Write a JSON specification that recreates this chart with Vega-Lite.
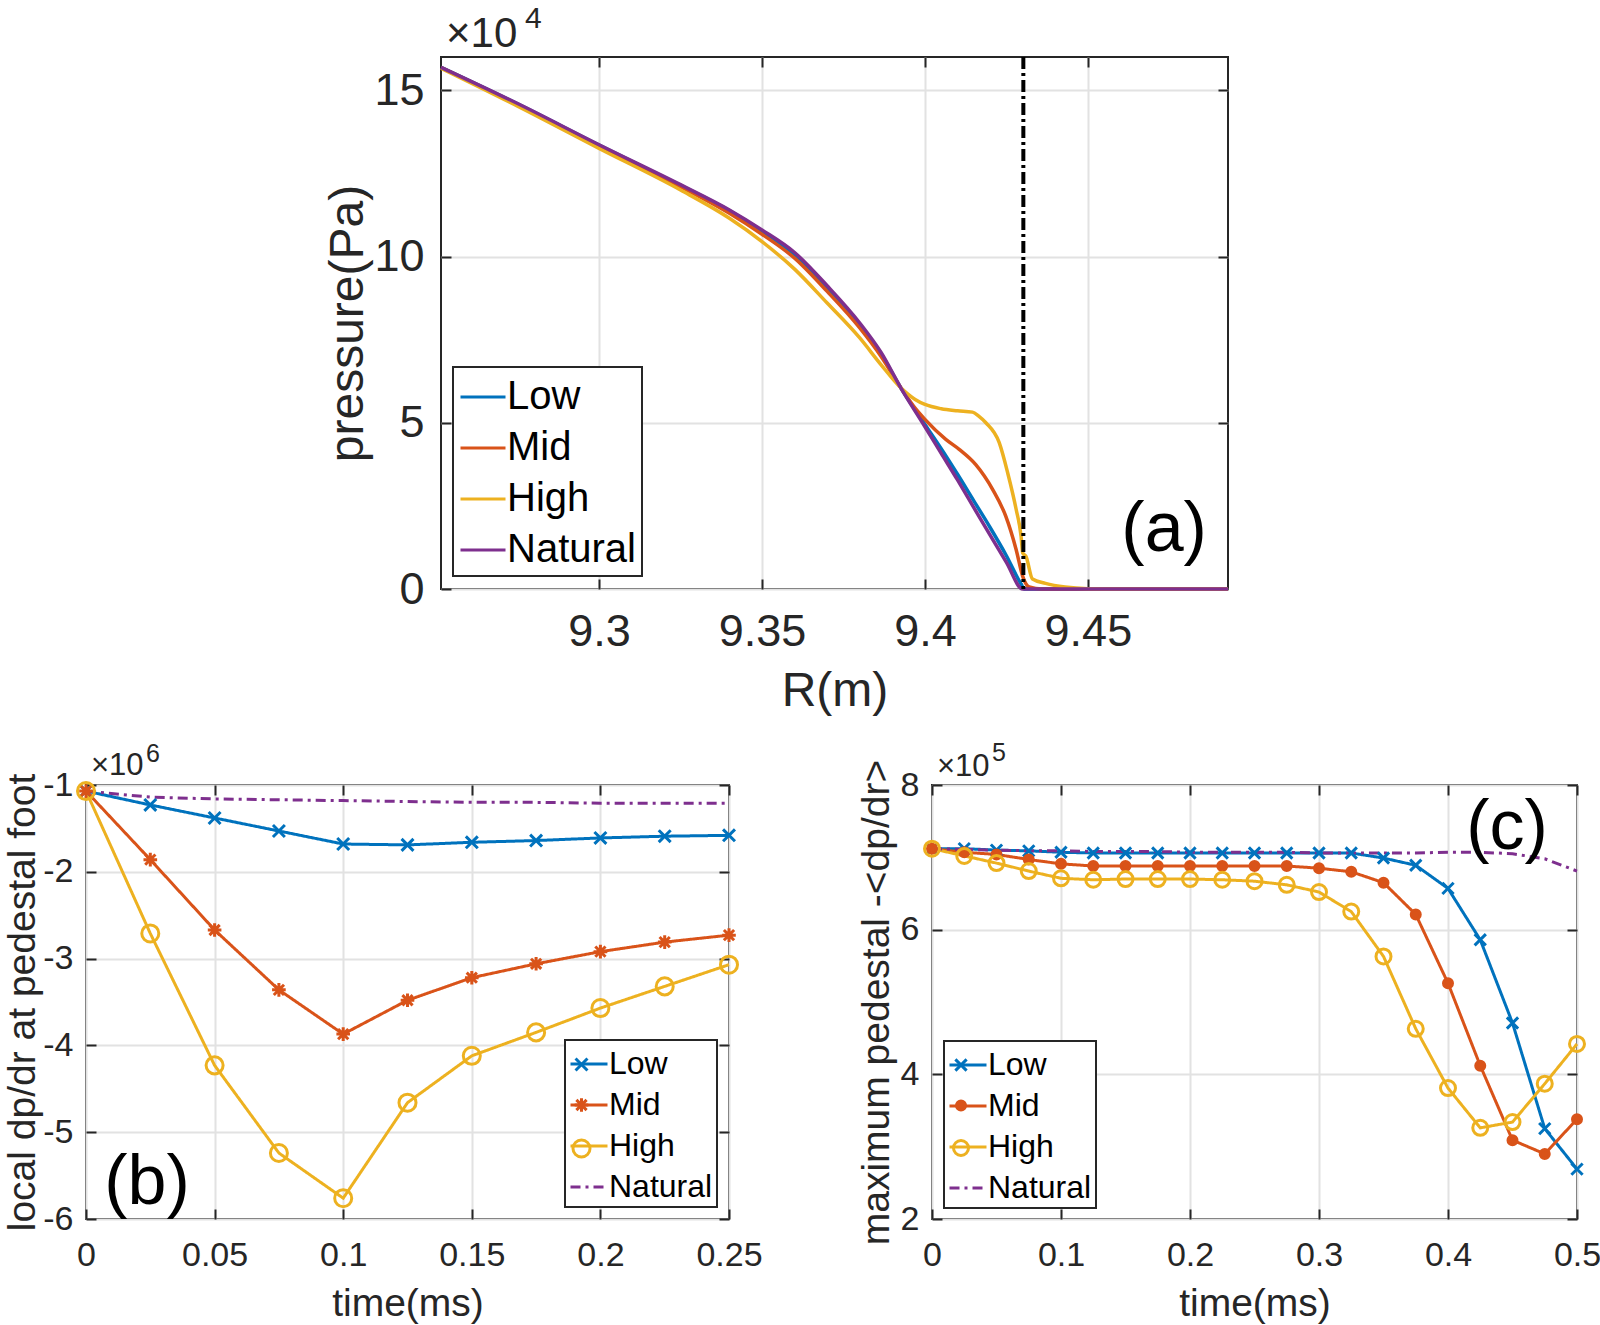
{
"$schema": "https://vega.github.io/schema/vega-lite/v6.json",
"background": "white",
"padding": {"left": 2, "top": 3, "right": 0, "bottom": 0},
"config": {
  "font": "Liberation Sans, Arial, Helvetica, sans-serif",
  "view": {"stroke": "#262626", "strokeWidth": 2},
  "axis": {"domain": false, "gridColor": "#e2e2e2", "gridWidth": 2, "tickColor": "#262626", "tickWidth": 2, "tickSize": -10,
           "labelColor": "#262626", "titleColor": "#262626", "titleFontWeight": "normal", "labelFlush": false, "labelOverlap": false, "labelBound": false,
           "labelFont": "Liberation Sans, Arial, sans-serif", "titleFont": "Liberation Sans, Arial, sans-serif"},
  "legend": {"labelFont": "Liberation Sans, Arial, sans-serif", "labelColor": "black", "strokeWidth": 2, "labelLimit": 400}
},
"datasets": {
  "pa": [
    {"series":"Low","R":9.2515,"p":15.69},{"series":"Low","R":9.275,"p":14.59},{"series":"Low","R":9.3,"p":13.35},{"series":"Low","R":9.325,"p":12.14},{"series":"Low","R":9.34,"p":11.38},{"series":"Low","R":9.35,"p":10.76},{"series":"Low","R":9.36,"p":10.05},{"series":"Low","R":9.37,"p":9.05},{"series":"Low","R":9.38,"p":7.95},{"series":"Low","R":9.3865,"p":7.08},{"series":"Low","R":9.3926,"p":6.05},{"series":"Low","R":9.4,"p":4.95},{"series":"Low","R":9.405,"p":4.22},{"series":"Low","R":9.41,"p":3.45},{"series":"Low","R":9.415,"p":2.65},{"series":"Low","R":9.42,"p":1.85},{"series":"Low","R":9.425,"p":1.0},{"series":"Low","R":9.4295,"p":0.15},{"series":"Low","R":9.4305,"p":0},{"series":"Low","R":9.45,"p":0},{"series":"Low","R":9.493,"p":0},
    {"series":"Mid","R":9.2515,"p":15.68},{"series":"Mid","R":9.275,"p":14.57},{"series":"Mid","R":9.3,"p":13.32},{"series":"Mid","R":9.325,"p":12.1},{"series":"Mid","R":9.34,"p":11.3},{"series":"Mid","R":9.35,"p":10.67},{"series":"Mid","R":9.36,"p":9.95},{"series":"Mid","R":9.37,"p":8.95},{"series":"Mid","R":9.38,"p":7.85},{"series":"Mid","R":9.3865,"p":7.0},{"series":"Mid","R":9.3926,"p":6.05},{"series":"Mid","R":9.3965,"p":5.5},{"series":"Mid","R":9.4,"p":5.1},{"series":"Mid","R":9.4064,"p":4.5},{"series":"Mid","R":9.4105,"p":4.2},{"series":"Mid","R":9.4156,"p":3.74},{"series":"Mid","R":9.4208,"p":2.99},{"series":"Mid","R":9.4248,"p":2.19},{"series":"Mid","R":9.428,"p":1.18},{"series":"Mid","R":9.43,"p":0.38},{"series":"Mid","R":9.432,"p":0.06},{"series":"Mid","R":9.436,"p":0},{"series":"Mid","R":9.493,"p":0},
    {"series":"High","R":9.2515,"p":15.66},{"series":"High","R":9.275,"p":14.52},{"series":"High","R":9.3,"p":13.25},{"series":"High","R":9.325,"p":12.0},{"series":"High","R":9.34,"p":11.15},{"series":"High","R":9.35,"p":10.45},{"series":"High","R":9.36,"p":9.62},{"series":"High","R":9.37,"p":8.6},{"series":"High","R":9.38,"p":7.55},{"series":"High","R":9.3865,"p":6.75},{"series":"High","R":9.3926,"p":6.05},{"series":"High","R":9.397,"p":5.7},{"series":"High","R":9.4,"p":5.55},{"series":"High","R":9.405,"p":5.42},{"series":"High","R":9.41,"p":5.36},{"series":"High","R":9.4146,"p":5.32},{"series":"High","R":9.4165,"p":5.2},{"series":"High","R":9.4187,"p":5.0},{"series":"High","R":9.4228,"p":4.4},{"series":"High","R":9.4254,"p":3.49},{"series":"High","R":9.428,"p":2.39},{"series":"High","R":9.4295,"p":1.59},{"series":"High","R":9.43,"p":1.08},{"series":"High","R":9.431,"p":0.98},{"series":"High","R":9.433,"p":0.3},{"series":"High","R":9.437,"p":0.17},{"series":"High","R":9.443,"p":0.06},{"series":"High","R":9.45,"p":0.01},{"series":"High","R":9.46,"p":0},{"series":"High","R":9.493,"p":0},
    {"series":"Natural","R":9.2515,"p":15.69},{"series":"Natural","R":9.275,"p":14.6},{"series":"Natural","R":9.3,"p":13.36},{"series":"Natural","R":9.325,"p":12.16},{"series":"Natural","R":9.34,"p":11.4},{"series":"Natural","R":9.35,"p":10.8},{"series":"Natural","R":9.36,"p":10.12},{"series":"Natural","R":9.37,"p":9.12},{"series":"Natural","R":9.38,"p":8.0},{"series":"Natural","R":9.3865,"p":7.12},{"series":"Natural","R":9.3926,"p":6.05},{"series":"Natural","R":9.4,"p":4.88},{"series":"Natural","R":9.405,"p":4.08},{"series":"Natural","R":9.41,"p":3.28},{"series":"Natural","R":9.415,"p":2.45},{"series":"Natural","R":9.42,"p":1.62},{"series":"Natural","R":9.425,"p":0.8},{"series":"Natural","R":9.43,"p":0},{"series":"Natural","R":9.45,"p":0},{"series":"Natural","R":9.493,"p":0}
  ],
  "pb": [
    {"series":"Low","t":0,"v":-1.07},{"series":"Low","t":0.025,"v":-1.23},{"series":"Low","t":0.05,"v":-1.38},{"series":"Low","t":0.075,"v":-1.53},{"series":"Low","t":0.1,"v":-1.68},{"series":"Low","t":0.125,"v":-1.69},{"series":"Low","t":0.15,"v":-1.66},{"series":"Low","t":0.175,"v":-1.64},{"series":"Low","t":0.2,"v":-1.61},{"series":"Low","t":0.225,"v":-1.59},{"series":"Low","t":0.25,"v":-1.58},
    {"series":"Mid","t":0,"v":-1.07},{"series":"Mid","t":0.025,"v":-1.86},{"series":"Mid","t":0.05,"v":-2.67},{"series":"Mid","t":0.075,"v":-3.36},{"series":"Mid","t":0.1,"v":-3.87},{"series":"Mid","t":0.125,"v":-3.48},{"series":"Mid","t":0.15,"v":-3.22},{"series":"Mid","t":0.175,"v":-3.06},{"series":"Mid","t":0.2,"v":-2.92},{"series":"Mid","t":0.225,"v":-2.81},{"series":"Mid","t":0.25,"v":-2.73},
    {"series":"High","t":0,"v":-1.07},{"series":"High","t":0.025,"v":-2.71},{"series":"High","t":0.05,"v":-4.23},{"series":"High","t":0.075,"v":-5.24},{"series":"High","t":0.1,"v":-5.76},{"series":"High","t":0.125,"v":-4.66},{"series":"High","t":0.15,"v":-4.12},{"series":"High","t":0.175,"v":-3.85},{"series":"High","t":0.2,"v":-3.57},{"series":"High","t":0.225,"v":-3.32},{"series":"High","t":0.25,"v":-3.07},
    {"series":"Natural","t":0,"v":-1.07},{"series":"Natural","t":0.025,"v":-1.14},{"series":"Natural","t":0.05,"v":-1.16},{"series":"Natural","t":0.075,"v":-1.17},{"series":"Natural","t":0.1,"v":-1.18},{"series":"Natural","t":0.125,"v":-1.19},{"series":"Natural","t":0.15,"v":-1.2},{"series":"Natural","t":0.175,"v":-1.2},{"series":"Natural","t":0.2,"v":-1.21},{"series":"Natural","t":0.225,"v":-1.21},{"series":"Natural","t":0.25,"v":-1.21}
  ],
  "pc": [
    {"series":"Low","t":0,"v":7.12},{"series":"Low","t":0.025,"v":7.12},{"series":"Low","t":0.05,"v":7.1},{"series":"Low","t":0.075,"v":7.09},{"series":"Low","t":0.1,"v":7.07},{"series":"Low","t":0.125,"v":7.06},{"series":"Low","t":0.15,"v":7.06},{"series":"Low","t":0.175,"v":7.06},{"series":"Low","t":0.2,"v":7.06},{"series":"Low","t":0.225,"v":7.06},{"series":"Low","t":0.25,"v":7.06},{"series":"Low","t":0.275,"v":7.06},{"series":"Low","t":0.3,"v":7.06},{"series":"Low","t":0.325,"v":7.06},{"series":"Low","t":0.35,"v":6.99},{"series":"Low","t":0.375,"v":6.89},{"series":"Low","t":0.4,"v":6.57},{"series":"Low","t":0.425,"v":5.86},{"series":"Low","t":0.45,"v":4.71},{"series":"Low","t":0.475,"v":3.25},{"series":"Low","t":0.5,"v":2.69},
    {"series":"Mid","t":0,"v":7.12},{"series":"Mid","t":0.025,"v":7.07},{"series":"Mid","t":0.05,"v":7.04},{"series":"Mid","t":0.075,"v":6.97},{"series":"Mid","t":0.1,"v":6.91},{"series":"Mid","t":0.125,"v":6.88},{"series":"Mid","t":0.15,"v":6.88},{"series":"Mid","t":0.175,"v":6.88},{"series":"Mid","t":0.2,"v":6.88},{"series":"Mid","t":0.225,"v":6.88},{"series":"Mid","t":0.25,"v":6.88},{"series":"Mid","t":0.275,"v":6.88},{"series":"Mid","t":0.3,"v":6.85},{"series":"Mid","t":0.325,"v":6.8},{"series":"Mid","t":0.35,"v":6.65},{"series":"Mid","t":0.375,"v":6.21},{"series":"Mid","t":0.4,"v":5.26},{"series":"Mid","t":0.425,"v":4.12},{"series":"Mid","t":0.45,"v":3.09},{"series":"Mid","t":0.475,"v":2.9},{"series":"Mid","t":0.5,"v":3.38},
    {"series":"High","t":0,"v":7.12},{"series":"High","t":0.025,"v":7.02},{"series":"High","t":0.05,"v":6.92},{"series":"High","t":0.075,"v":6.81},{"series":"High","t":0.1,"v":6.71},{"series":"High","t":0.125,"v":6.69},{"series":"High","t":0.15,"v":6.7},{"series":"High","t":0.175,"v":6.7},{"series":"High","t":0.2,"v":6.7},{"series":"High","t":0.225,"v":6.69},{"series":"High","t":0.25,"v":6.67},{"series":"High","t":0.275,"v":6.62},{"series":"High","t":0.3,"v":6.52},{"series":"High","t":0.325,"v":6.25},{"series":"High","t":0.35,"v":5.63},{"series":"High","t":0.375,"v":4.63},{"series":"High","t":0.4,"v":3.81},{"series":"High","t":0.425,"v":3.26},{"series":"High","t":0.45,"v":3.34},{"series":"High","t":0.475,"v":3.87},{"series":"High","t":0.5,"v":4.42},
    {"series":"Natural","t":0,"v":7.12},{"series":"Natural","t":0.025,"v":7.11},{"series":"Natural","t":0.05,"v":7.1},{"series":"Natural","t":0.075,"v":7.09},{"series":"Natural","t":0.1,"v":7.09},{"series":"Natural","t":0.125,"v":7.08},{"series":"Natural","t":0.15,"v":7.08},{"series":"Natural","t":0.175,"v":7.08},{"series":"Natural","t":0.2,"v":7.07},{"series":"Natural","t":0.225,"v":7.07},{"series":"Natural","t":0.25,"v":7.07},{"series":"Natural","t":0.275,"v":7.07},{"series":"Natural","t":0.3,"v":7.06},{"series":"Natural","t":0.325,"v":7.06},{"series":"Natural","t":0.35,"v":7.06},{"series":"Natural","t":0.375,"v":7.06},{"series":"Natural","t":0.4,"v":7.07},{"series":"Natural","t":0.425,"v":7.07},{"series":"Natural","t":0.45,"v":7.05},{"series":"Natural","t":0.475,"v":6.98},{"series":"Natural","t":0.5,"v":6.81}
  ]
},
"bounds": "flush",
"spacing": 728,
"resolve": {
  "scale": {"color": "independent", "strokeDash": "independent", "stroke": "independent", "shape": "independent", "fill": "independent"},
  "legend": {"color": "independent", "strokeDash": "independent", "stroke": "independent", "shape": "independent", "fill": "independent"}
},
"vconcat": [
  {
    "bounds": "flush",
    "spacing": 203,
    "resolve": {"scale": {"color": "independent"}, "legend": {"color": "independent"}},
    "hconcat": [
      {
        "width": 152, "height": 532,
        "view": {"stroke": null},
        "data": {"values": [{"R": 9.3, "p": 5}]},
        "mark": {"type": "point", "opacity": 0},
        "encoding": {
          "x": {"field": "R", "type": "quantitative", "axis": null},
          "y": {"field": "p", "type": "quantitative", "axis": null}
        }
      },
      {
        "width": 787, "height": 532,
        "resolve": {"axis": {"x": "independent", "y": "independent"}},
        "layer": [
          {
            "data": {"name": "pa"},
            "mark": {"type": "line", "strokeWidth": 3.5, "interpolate": "monotone"},
            "encoding": {
              "x": {"field": "R", "type": "quantitative", "scale": {"domain": [9.2515, 9.493], "nice": false, "zero": false},
                    "axis": {"orient": "bottom", "values": [9.3, 9.35, 9.4, 9.45], "labelExpr": "'' + datum.value", "title": "R(m)", "labelFontSize": 45, "titleFontSize": 48, "labelPadding": 30, "titlePadding": 13, "grid": true}},
              "y": {"field": "p", "type": "quantitative", "scale": {"domain": [0, 16], "nice": false, "zero": false},
                    "axis": {"orient": "left", "values": [0, 5, 10, 15], "labelExpr": "'' + datum.value", "title": "pressure(Pa)", "labelFontSize": 45, "titleFontSize": 48, "labelPadding": 27, "titlePadding": 1, "grid": true}},
              "color": {"field": "series", "type": "nominal", "sort": null,
                        "scale": {"domain": ["Low", "Mid", "High", "Natural"], "range": ["#0072BD", "#D95319", "#EDB120", "#7E2F8E"]},
                        "legend": {"orient": "none", "legendX": 12, "legendY": 310, "title": null, "symbolType": "stroke", "symbolSize": 2025, "symbolStrokeWidth": 3, "labelFontSize": 40, "padding": 6, "rowPadding": 7, "labelOffset": 0, "strokeColor": "#262626", "fillColor": "white"}}
            }
          },
          {
            "data": {"values": [{"R": 9.4302}]},
            "mark": {"type": "rule", "color": "black", "strokeWidth": 4, "strokeDash": [12, 4, 3, 4]},
            "encoding": {"x": {"field": "R", "type": "quantitative", "axis": null}}
          },
          {
            "data": {"values": [{"label": "(a)"}]},
            "mark": {"type": "text", "fontSize": 70, "align": "center", "baseline": "middle", "color": "black"},
            "encoding": {
              "text": {"field": "label"},
              "x": {"datum": 9.4734, "type": "quantitative", "axis": {"orient": "top", "values": [9.3, 9.35, 9.4, 9.45], "labels": false, "grid": false, "title": null}},
              "y": {"datum": 1.77, "type": "quantitative", "axis": {"orient": "right", "values": [0, 5, 10, 15], "labels": false, "grid": false, "title": null}}
            }
          },
          {
            "data": {"values": [{"label": "×10"}]},
            "mark": {"type": "text", "fontSize": 42, "align": "left", "baseline": "alphabetic", "dx": 5, "dy": -10, "color": "#262626"},
            "encoding": {"text": {"field": "label"}, "x": {"datum": 9.2515, "type": "quantitative", "axis": null}, "y": {"datum": 16, "type": "quantitative", "axis": null}}
          },
          {
            "data": {"values": [{"label": "4"}]},
            "mark": {"type": "text", "fontSize": 30, "align": "left", "baseline": "alphabetic", "dx": 84, "dy": -29, "color": "#262626"},
            "encoding": {"text": {"field": "label"}, "x": {"datum": 9.2515, "type": "quantitative", "axis": null}, "y": {"datum": 16, "type": "quantitative", "axis": null}}
          }
        ]
      }
    ]
  },
  {
    "bounds": "flush",
    "spacing": 203,
    "resolve": {
      "scale": {"color": "independent", "strokeDash": "independent", "stroke": "independent", "shape": "independent", "fill": "independent"},
      "legend": {"color": "independent", "strokeDash": "independent", "stroke": "independent", "shape": "independent", "fill": "independent"}
    },
    "hconcat": [
      {
        "width": 643, "height": 434,
        "resolve": {"axis": {"x": "independent", "y": "independent"}},
        "layer": [
          {
            "data": {"name": "pb"},
            "mark": {"type": "line", "strokeWidth": 3},
            "encoding": {
              "x": {"field": "t", "type": "quantitative", "scale": {"domain": [0, 0.25], "nice": false, "zero": false},
                    "axis": {"orient": "bottom", "values": [0, 0.05, 0.1, 0.15, 0.2, 0.25], "labelExpr": "'' + datum.value", "title": "time(ms)", "labelFontSize": 34, "titleFontSize": 39, "labelPadding": 29, "titlePadding": 12, "grid": true}},
              "y": {"field": "v", "type": "quantitative", "scale": {"domain": [-6, -1], "nice": false, "zero": false},
                    "axis": {"orient": "left", "values": [-6, -5, -4, -3, -2, -1], "labelExpr": "'' + datum.value", "title": "local dp/dr at pedestal foot", "labelFontSize": 34, "titleFontSize": 39, "labelPadding": 23, "titlePadding": 0, "grid": true}},
              "color": {"field": "series", "type": "nominal", "sort": null,
                        "scale": {"domain": ["Low", "Mid", "High", "Natural"], "range": ["#0072BD", "#D95319", "#EDB120", "#7E2F8E"]},
                        "legend": {"orient": "none", "legendX": 479, "legendY": 255, "title": null, "symbolType": "stroke", "symbolSize": 1369, "symbolStrokeWidth": 3, "labelFontSize": 32, "padding": 4, "rowPadding": 5, "labelOffset": 0, "strokeColor": "#262626", "fillColor": "white"}},
              "strokeDash": {"field": "series", "type": "nominal", "sort": null,
                        "scale": {"domain": ["Low", "Mid", "High", "Natural"], "range": [[1, 0], [1, 0], [1, 0], [10, 5, 3, 5]]},
                        "legend": {"orient": "none", "legendX": 479, "legendY": 255, "title": null, "symbolType": "stroke", "symbolSize": 1369, "symbolStrokeWidth": 3, "labelFontSize": 32, "padding": 4, "rowPadding": 5, "labelOffset": 0, "strokeColor": "#262626", "fillColor": "white"}}
            }
          },
          {
            "data": {"name": "pb"},
            "transform": [{"filter": "datum.series !== 'Natural'"}],
            "mark": {"type": "point", "filled": false, "size": 290, "strokeWidth": 3, "opacity": 1},
            "encoding": {
              "x": {"field": "t", "type": "quantitative", "axis": null},
              "y": {"field": "v", "type": "quantitative", "axis": null},
              "stroke": {"field": "series", "type": "nominal", "sort": null,
                         "scale": {"domain": ["Low", "Mid", "High"], "range": ["#0072BD", "#D95319", "#EDB120"]},
                         "legend": {"orient": "none", "legendX": 481, "legendY": 265, "title": null, "symbolSize": 290, "symbolStrokeWidth": 3, "labelFontSize": 1, "labelExpr": "''", "padding": 4, "rowPadding": 14.5, "labelOffset": 0}},
              "shape": {"field": "series", "type": "nominal", "sort": null,
                         "scale": {"domain": ["Low", "Mid", "High"], "range": ["M-0.7,-0.7L0.7,0.7M-0.7,0.7L0.7,-0.7", "M-0.6,-0.6L0.6,0.6M-0.6,0.6L0.6,-0.6M0,-0.8L0,0.8M-0.8,0L0.8,0", "circle"]},
                         "legend": {"orient": "none", "legendX": 481, "legendY": 265, "title": null, "symbolSize": 290, "symbolStrokeWidth": 3, "labelFontSize": 1, "labelExpr": "''", "padding": 4, "rowPadding": 14.5, "labelOffset": 0}}
            }
          },
          {
            "data": {"values": [{"label": "(b)"}]},
            "mark": {"type": "text", "fontSize": 70, "align": "center", "baseline": "middle", "color": "black"},
            "encoding": {
              "text": {"field": "label"},
              "x": {"datum": 0.0237, "type": "quantitative", "axis": {"orient": "top", "values": [0, 0.05, 0.1, 0.15, 0.2, 0.25], "labels": false, "grid": false, "title": null}},
              "y": {"datum": -5.58, "type": "quantitative", "axis": {"orient": "right", "values": [-6, -5, -4, -3, -2, -1], "labels": false, "grid": false, "title": null}}
            }
          },
          {
            "data": {"values": [{"label": "×10"}]},
            "mark": {"type": "text", "fontSize": 31, "align": "left", "baseline": "alphabetic", "dx": 5, "dy": -10, "color": "#262626"},
            "encoding": {"text": {"field": "label"}, "x": {"datum": 0, "type": "quantitative", "axis": null}, "y": {"datum": -1, "type": "quantitative", "axis": null}}
          },
          {
            "data": {"values": [{"label": "6"}]},
            "mark": {"type": "text", "fontSize": 25, "align": "left", "baseline": "alphabetic", "dx": 60, "dy": -23, "color": "#262626"},
            "encoding": {"text": {"field": "label"}, "x": {"datum": 0, "type": "quantitative", "axis": null}, "y": {"datum": -1, "type": "quantitative", "axis": null}}
          }
        ]
      },
      {
        "width": 645, "height": 434,
        "resolve": {"axis": {"x": "independent", "y": "independent"}},
        "layer": [
          {
            "data": {"name": "pc"},
            "mark": {"type": "line", "strokeWidth": 3},
            "encoding": {
              "x": {"field": "t", "type": "quantitative", "scale": {"domain": [0, 0.5], "nice": false, "zero": false},
                    "axis": {"orient": "bottom", "values": [0, 0.1, 0.2, 0.3, 0.4, 0.5], "labelExpr": "'' + datum.value", "title": "time(ms)", "labelFontSize": 34, "titleFontSize": 39, "labelPadding": 29, "titlePadding": 12, "grid": true}},
              "y": {"field": "v", "type": "quantitative", "scale": {"domain": [2, 8], "nice": false, "zero": false},
                    "axis": {"orient": "left", "values": [2, 4, 6, 8], "labelExpr": "'' + datum.value", "title": "maximum pedestal -<dp/dr>", "labelFontSize": 34, "titleFontSize": 39, "labelPadding": 23, "titlePadding": 4, "grid": true}},
              "color": {"field": "series", "type": "nominal", "sort": null,
                        "scale": {"domain": ["Low", "Mid", "High", "Natural"], "range": ["#0072BD", "#D95319", "#EDB120", "#7E2F8E"]},
                        "legend": {"orient": "none", "legendX": 12, "legendY": 256, "title": null, "symbolType": "stroke", "symbolSize": 1369, "symbolStrokeWidth": 3, "labelFontSize": 32, "padding": 4, "rowPadding": 5, "labelOffset": 0, "strokeColor": "#262626", "fillColor": "white"}},
              "strokeDash": {"field": "series", "type": "nominal", "sort": null,
                        "scale": {"domain": ["Low", "Mid", "High", "Natural"], "range": [[1, 0], [1, 0], [1, 0], [10, 5, 3, 5]]},
                        "legend": {"orient": "none", "legendX": 12, "legendY": 256, "title": null, "symbolType": "stroke", "symbolSize": 1369, "symbolStrokeWidth": 3, "labelFontSize": 32, "padding": 4, "rowPadding": 5, "labelOffset": 0, "strokeColor": "#262626", "fillColor": "white"}}
            }
          },
          {
            "data": {"name": "pc"},
            "transform": [{"filter": "datum.series !== 'Natural'"}],
            "mark": {"type": "point", "filled": false, "size": 225, "strokeWidth": 3, "opacity": 1},
            "encoding": {
              "x": {"field": "t", "type": "quantitative", "axis": null},
              "y": {"field": "v", "type": "quantitative", "axis": null},
              "stroke": {"field": "series", "type": "nominal", "sort": null,
                         "scale": {"domain": ["Low", "Mid", "High"], "range": ["#0072BD", "#D95319", "#EDB120"]},
                         "legend": {"orient": "none", "legendX": 16, "legendY": 267, "title": null, "symbolSize": 225, "symbolStrokeWidth": 3, "labelFontSize": 1, "labelExpr": "''", "padding": 4, "rowPadding": 17.5, "labelOffset": 0}},
              "fill": {"field": "series", "type": "nominal", "sort": null,
                         "scale": {"domain": ["Low", "Mid", "High"], "range": ["transparent", "#D95319", "transparent"]},
                         "legend": {"orient": "none", "legendX": 16, "legendY": 267, "title": null, "symbolSize": 225, "symbolStrokeWidth": 3, "labelFontSize": 1, "labelExpr": "''", "padding": 4, "rowPadding": 17.5, "labelOffset": 0}},
              "shape": {"field": "series", "type": "nominal", "sort": null,
                         "scale": {"domain": ["Low", "Mid", "High"], "range": ["M-0.75,-0.75L0.75,0.75M-0.75,0.75L0.75,-0.75", "M-0.6,0A0.6,0.6,0,1,0,0.6,0A0.6,0.6,0,1,0,-0.6,0Z", "circle"]},
                         "legend": {"orient": "none", "legendX": 16, "legendY": 267, "title": null, "symbolSize": 225, "symbolStrokeWidth": 3, "labelFontSize": 1, "labelExpr": "''", "padding": 4, "rowPadding": 17.5, "labelOffset": 0}}
            }
          },
          {
            "data": {"values": [{"label": "(c)"}]},
            "mark": {"type": "text", "fontSize": 70, "align": "center", "baseline": "middle", "color": "black"},
            "encoding": {
              "text": {"field": "label"},
              "x": {"datum": 0.4457, "type": "quantitative", "axis": {"orient": "top", "values": [0, 0.1, 0.2, 0.3, 0.4, 0.5], "labels": false, "grid": false, "title": null}},
              "y": {"datum": 7.4, "type": "quantitative", "axis": {"orient": "right", "values": [2, 4, 6, 8], "labels": false, "grid": false, "title": null}}
            }
          },
          {
            "data": {"values": [{"label": "×10"}]},
            "mark": {"type": "text", "fontSize": 31, "align": "left", "baseline": "alphabetic", "dx": 5, "dy": -9, "color": "#262626"},
            "encoding": {"text": {"field": "label"}, "x": {"datum": 0, "type": "quantitative", "axis": null}, "y": {"datum": 8, "type": "quantitative", "axis": null}}
          },
          {
            "data": {"values": [{"label": "5"}]},
            "mark": {"type": "text", "fontSize": 25, "align": "left", "baseline": "alphabetic", "dx": 60, "dy": -24, "color": "#262626"},
            "encoding": {"text": {"field": "label"}, "x": {"datum": 0, "type": "quantitative", "axis": null}, "y": {"datum": 8, "type": "quantitative", "axis": null}}
          }
        ]
      }
    ]
  }
]
}
